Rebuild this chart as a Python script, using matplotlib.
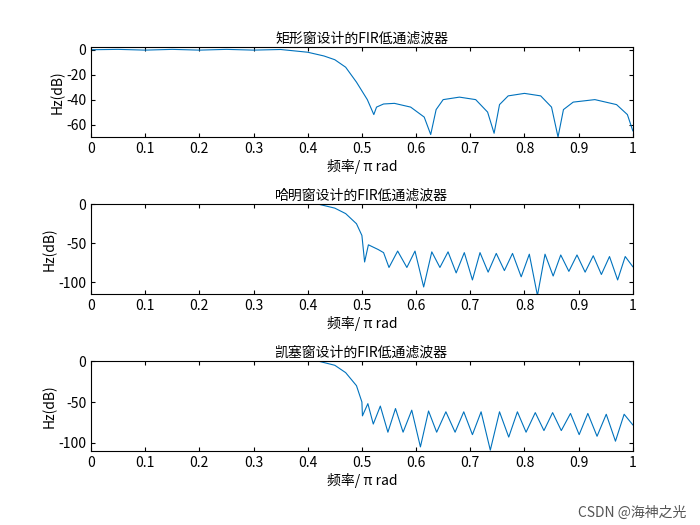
import matplotlib.pyplot as plt

plt.rcParams["font.family"] = ["Noto Sans CJK SC", "Noto Sans CJK JP", "Noto Sans CJK TC",
                               "Noto Sans CJK KR", "DejaVu Sans"]
plt.rcParams["axes.unicode_minus"] = False

# rectangular window: (normalized freq, dB)
rect_x = [0, 0.05, 0.1, 0.15, 0.2, 0.25, 0.3, 0.35, 0.4, 0.43, 0.45, 0.47, 0.48, 0.49, 0.5, 0.51, 0.522,
          0.527, 0.54, 0.56, 0.59, 0.615, 0.627, 0.637, 0.65, 0.68, 0.71, 0.732, 0.744, 0.754, 0.77, 0.8,
          0.83, 0.85, 0.862, 0.872, 0.89, 0.93, 0.97, 0.99, 1.0]
rect_y = [0, 0.3, -0.3, 0.3, -0.3, 0.3, -0.3, 0.2, -2, -5, -8, -14, -20, -26, -33, -40, -52,
          -46, -43.5, -43, -46, -54, -68, -48, -40, -38, -40, -50, -67, -44, -37, -35,
          -37, -46, -70, -48, -42, -40, -44, -52, -65]

# hamming window: nulls and sidelobe peaks
hamm_x = [0, 0.2, 0.4, 0.42, 0.45, 0.47, 0.49, 0.5, 0.505, 0.512, 0.53, 0.54, 0.55, 0.566, 0.583, 0.598,
          0.614, 0.629, 0.644, 0.659, 0.674, 0.689, 0.704, 0.718, 0.733, 0.748, 0.763, 0.778, 0.794, 0.809,
          0.824, 0.838, 0.853, 0.867, 0.882, 0.897, 0.912, 0.927, 0.942, 0.957, 0.972, 0.986, 1.0]
hamm_y = [0, 0, 0, 0, -5, -12, -25, -40, -74, -52, -58, -62, -81, -60, -81, -60,
          -106, -61, -81, -61, -88, -62, -97, -62, -87, -63, -85, -63, -93, -64,
          -117, -64, -92, -65, -86, -65, -87, -66, -90, -67, -97, -67, -80]

# kaiser window: nulls and sidelobe peaks
kais_x = [0, 0.2, 0.4, 0.42, 0.45, 0.47, 0.49, 0.5, 0.501, 0.511, 0.521, 0.534, 0.548, 0.562, 0.576, 0.592,
          0.608, 0.623, 0.638, 0.655, 0.672, 0.688, 0.704, 0.72, 0.737, 0.754, 0.771, 0.787, 0.803, 0.82,
          0.836, 0.852, 0.868, 0.885, 0.901, 0.917, 0.934, 0.951, 0.968, 0.984, 1.0]
kais_y = [0, 0, 0, 0, -5, -14, -30, -50, -67, -52, -77, -55, -87, -58, -87, -60,
          -105, -61, -87, -62, -87, -62, -90, -62, -109, -62, -93, -62, -87, -63,
          -85, -63, -85, -64, -90, -64, -92, -65, -98, -65, -78]

titles = ["矩形窗设计的FIR低通滤波器", "哈明窗设计的FIR低通滤波器", "凯塞窗设计的FIR低通滤波器"]
series = [(rect_x, rect_y), (hamm_x, hamm_y), (kais_x, kais_y)]
ylims = [(-70, 2), (-115, 0), (-110, 0)]
yticks = [[-60, -40, -20, 0], [-100, -50, 0], [-100, -50, 0]]
bottoms = [0.739, 0.44, 0.141]

fig = plt.figure(figsize=(7, 5.25), dpi=100)
for (x, y), t, yl, yt, b in zip(series, titles, ylims, yticks, bottoms):
    ax = fig.add_axes([0.13, b, 0.774, 0.171])
    ax.plot(x, y, color="#0072bd", linewidth=0.8)
    ax.set_xlim(0, 1)
    ax.set_ylim(*yl)
    ax.set_yticks(yt)
    ax.set_xticks([i / 10 for i in range(11)])
    ax.set_xticklabels(["0", "0.1", "0.2", "0.3", "0.4", "0.5", "0.6", "0.7", "0.8", "0.9", "1"])
    ax.tick_params(direction="in", labelsize=10, top=True, right=True, length=3)
    ax.set_title(t, fontsize=10, pad=3)
    ax.set_xlabel("频率/ π rad", fontsize=10, labelpad=2)
    ax.set_ylabel("Hz(dB)", fontsize=10, labelpad=1)

fig.text(0.98, 0.01, "CSDN @海神之光", ha="right", va="bottom", fontsize=10, color="#555555")
fig.savefig("out.png")
